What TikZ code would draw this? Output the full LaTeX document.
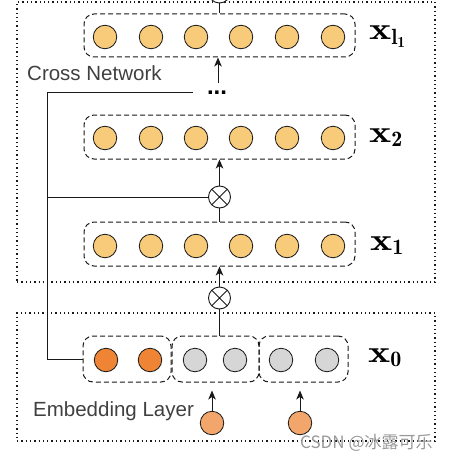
\documentclass[tikz,border=0pt]{standalone}
\usepackage{fontspec}
\usepackage{graphicx}
\setsansfont{Liberation Sans}
\newfontfamily\cjkfont{Noto Sans CJK SC}
\usetikzlibrary{arrows.meta}
\definecolor{goldc}{RGB}{248,203,123}
\definecolor{orangec}{RGB}{238,132,52}
\definecolor{grayc}{RGB}{214,214,214}
\definecolor{salmonc}{RGB}{242,166,108}
\definecolor{linec}{RGB}{25,25,25}
\definecolor{textc}{RGB}{64,64,64}
\newcommand\vlabel[1]{\scalebox{4.2}[3.1]{$\mathbf{x}$}\raisebox{-4.5pt}{\scalebox{2.2}{$\mathbf{#1}$}}}
\begin{document}
\begin{tikzpicture}[x=1pt,y=-1pt,
  neuron/.style={circle,draw=linec,line width=0.8pt,minimum size=23.5pt,inner sep=0pt},
  gold/.style={neuron,fill=goldc},
  orng/.style={neuron,fill=orangec},
  gry/.style={neuron,fill=grayc},
  inp/.style={neuron,fill=salmonc},
  group/.style={draw=linec,line width=1pt,dash pattern=on 5pt off 3pt,rounded corners=10pt,inner sep=0pt},
  area/.style={draw=linec,line width=1.1pt,dash pattern=on 1.3pt off 3pt,inner sep=0pt},
  cross/.style={circle,draw=linec,line width=0.9pt,fill=white,minimum size=22pt,inner sep=0pt,
    path picture={\draw[line width=0.9pt,linec] (path picture bounding box.south west) -- (path picture bounding box.north east)
      (path picture bounding box.north west) -- (path picture bounding box.south east);}},
  conn/.style={draw=linec,line width=1pt},
  arr/.style={conn,-{Stealth[length=9pt,width=7.5pt,inset=2.5pt]}},
  lbl/.style={anchor=base west,inner sep=0pt},
  captext/.style={anchor=base west,inner sep=0pt,text=textc,font=\sffamily\fontsize{20.5}{24}\selectfont}
]
\useasboundingbox (0,0) rectangle (452,460);
\clip (0,0) rectangle (452,460);

% areas
\node[area,minimum width=418pt,minimum height=280pt] (crossarea) at (226,142) {};
\node[area,minimum width=418pt,minimum height=128pt] (embarea) at (226,377) {};

% group boxes
\node[group,minimum width=271pt,minimum height=43pt] (rowL) at (219.5,35.5) {};
\node[group,minimum width=271pt,minimum height=44pt] (rowB) at (219.5,137) {};
\node[group,minimum width=271pt,minimum height=44pt] (rowA) at (219.5,244) {};
\node[group,minimum width=88pt,minimum height=46pt] (grpA) at (127,359) {};
\node[group,minimum width=87pt,minimum height=46pt] (grpB) at (215.5,359) {};
\node[group,minimum width=89pt,minimum height=46pt] (grpC) at (303.5,359) {};

% neurons
\foreach \x [count=\i] in {105,151,196,241,287,333} {
  \node[gold] (l\i) at (\x,37) {};
  \node[gold] (b\i) at (\x,138) {};
  \node[gold] (a\i) at (\x,246) {};
}
\node[orng] (e1) at (106,360) {};
\node[orng] (e2) at (150,360) {};
\node[gry] (e3) at (195,360) {};
\node[gry] (e4) at (235,360) {};
\node[gry] (e5) at (281,360) {};
\node[gry] (e6) at (327,360) {};

\node[inp] (i1) at (212,423) {};
\node[inp] (i2) at (300,423) {};

% cross operators
\node[cross] (cA) at (219.5,298) {};
\node[cross] (cB) at (219.5,197) {};
\node[cross] (cT) at (219.5,-8) {};

% dots
\node[anchor=base,inner sep=0pt,font=\sffamily\bfseries\fontsize{24}{24}\selectfont] (dots) at (217,94) {...};
\coordinate (dtop) at (218,83);
\coordinate (lt) at (47,92);
\coordinate (le) at (193,92);

% connectors
\draw[conn] (cA.south) -- (cA |- grpB.north);
\draw[arr] (cA.north) -- (cA |- rowA.south);
\draw[conn] (cB.south) -- (cB |- rowA.north);
\draw[arr] (cB.north) -- (cB |- rowB.south);
\draw[conn] (cT.south) -- (cT |- rowL.north);
\draw[arr] (dtop) -- (dtop |- rowL.south);
\draw[conn] (grpA.west) -| (lt) -- (le);
\draw[conn] (cB.west) -- (cB -| lt);
\draw[arr,shorten >=8pt] (i1.north) -- (i1 |- grpB.south);
\draw[arr,shorten >=8pt] (i2.north) -- (i2 |- grpC.south);

% labels
\node[lbl] (xl) at (369,40) {\vlabel{l_1}};
\node[lbl] (x2) at (369,142) {\vlabel{2}};
\node[lbl] (x1) at (370,250) {\vlabel{1}};
\node[lbl] (x0) at (368,362) {\vlabel{0}};

\node[captext] (cn) at (27,81) {Cross Network};
\node[captext] (el) at (33,416) {Embedding Layer};
\node[anchor=base west,inner sep=0pt,text=black!40,font=\cjkfont\fontsize{17}{20}\selectfont] (wm) at (300,448) {CSDN @冰露可乐};
\end{tikzpicture}
\end{document}
